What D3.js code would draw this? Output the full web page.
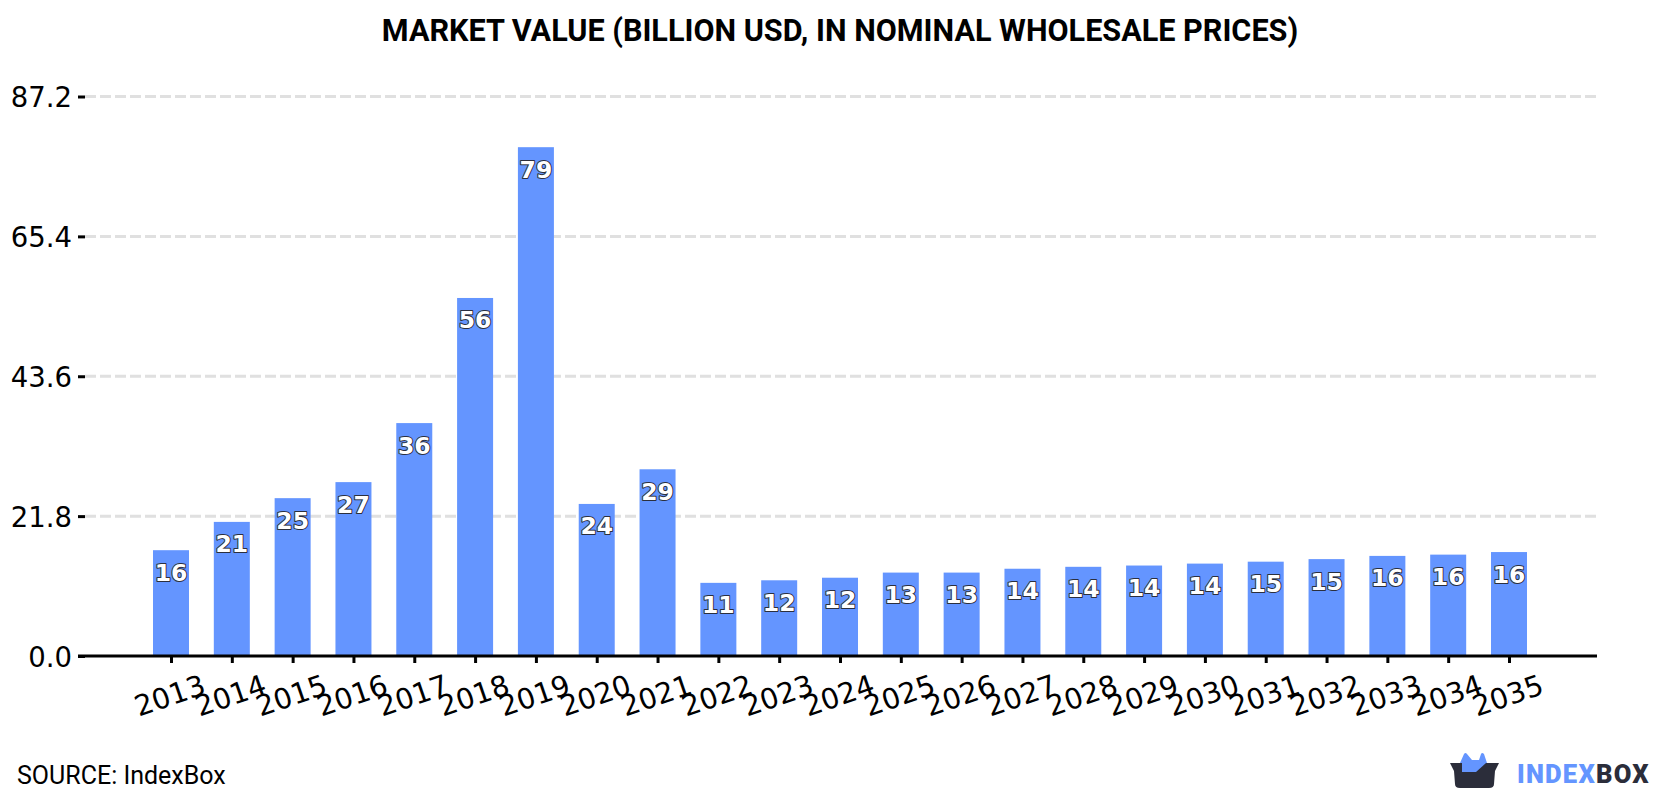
<!DOCTYPE html>
<html>
<head>
<meta charset="utf-8">
<script src="https://cdn.jsdelivr.net/npm/d3@7"></script>
<style>
  html, body { margin: 0; padding: 0; background: #fff; }
  svg { display: block; }
</style>
</head>
<body>
<svg id="chart" width="1680" height="800"></svg>
<script>
const years = ["2013","2014","2015","2016","2017","2018","2019","2020","2021","2022","2023","2024","2025","2026","2027","2028","2029","2030","2031","2032","2033","2034","2035"];
const marketValue = [16.49,20.9,24.6,27.1,36.3,55.8,79.3,23.7,29.1,11.4,11.8,12.2,13.0,13.0,13.6,13.9,14.1,14.4,14.7,15.1,15.6,15.8,16.2];
const yTicks = [0, 21.8, 43.6, 65.4, 87.2];
const titleText = "MARKET VALUE (BILLION USD, IN NOMINAL WHOLESALE PRICES)";
const sourceText = "SOURCE: IndexBox";

const svg = d3.select("#chart");
const plot = { left: 85, right: 1597, top: 96.5, bottom: 656 };

const x = d3.scalePoint().domain(years).range([171, 1509]);
const y = d3.scaleLinear().domain([0, 87.2]).range([plot.bottom, plot.top]);
const barWidth = 36;

// Title
svg.append("text")
  .attr("x", 840).attr("y", 41)
  .attr("text-anchor", "middle")
  .style("font", "700 30.6px Roboto")
  .text(titleText);

// Dashed horizontal gridlines, skipping the baseline
svg.append("g").selectAll("line")
  .data(yTicks.filter(d => d > 0))
  .join("line")
  .attr("x1", plot.left).attr("x2", plot.right)
  .attr("y1", d => y(d)).attr("y2", d => y(d))
  .attr("stroke", "#e0e0e0")
  .attr("stroke-width", 3)
  .attr("stroke-dasharray", "11 4");

// Bars
svg.append("g").selectAll("rect")
  .data(years.map((year, i) => ({ year, value: marketValue[i] })))
  .join("rect")
  .attr("x", d => x(d.year) - barWidth / 2)
  .attr("y", d => y(d.value))
  .attr("width", barWidth)
  .attr("height", d => y(0) - y(d.value))
  .attr("fill", "#6495ff");

// Left axis: tick labels and short tick marks, no domain line
const yAxis = svg.append("g")
  .attr("transform", `translate(${plot.left},0)`)
  .call(d3.axisLeft(y).tickValues(yTicks).tickFormat(d3.format(".1f")).tickSize(7).tickPadding(6));
yAxis.select(".domain").remove();
yAxis.selectAll(".tick line").attr("stroke", "#000").attr("stroke-width", 3);
yAxis.selectAll(".tick text")
  .attr("fill", "#000")
  .attr("dy", "0.37em")
  .style("font", "27.5px 'DejaVu Sans'");

// Bottom axis with rotated year labels
const xAxis = svg.append("g")
  .attr("transform", `translate(0,${plot.bottom})`)
  .call(d3.axisBottom(x).tickSize(7).tickPadding(0));
xAxis.select(".domain")
  .attr("d", `M${plot.left - 7},0H${plot.right}`)
  .attr("stroke", "#000").attr("stroke-width", 3);
xAxis.selectAll(".tick line").attr("stroke", "#000").attr("stroke-width", 3);
xAxis.selectAll(".tick text")
  .attr("fill", "#000")
  .attr("text-anchor", "middle")
  .attr("dy", 0)
  .attr("transform", "translate(1.5,49) rotate(-19)")
  .attr("x", 0).attr("y", 0)
  .style("font", "28.5px 'DejaVu Sans'");

// Value labels inside the bars
svg.append("g").selectAll("text")
  .data(years.map((year, i) => ({ year, value: marketValue[i] })))
  .join("text")
  .attr("x", d => x(d.year))
  .attr("y", d => y(d.value) + 30.5)
  .attr("text-anchor", "middle")
  .attr("fill", "#fff")
  .attr("stroke", "#2b2f3d")
  .attr("stroke-width", 2)
  .attr("stroke-linejoin", "round")
  .attr("paint-order", "stroke")
  .style("font", "700 23.5px 'DejaVu Sans'")
  .text(d => d3.format(".0f")(d.value));

// Source note
svg.append("text")
  .attr("x", 17).attr("y", 784)
  .style("font", "400 25px Roboto")
  .attr("fill", "#000")
  .text(sourceText);

// IndexBox logo: open box with blue flaps, followed by the wordmark
const logo = svg.append("g").attr("transform", "translate(1450,753)");
logo.append("path")
  .attr("d", "M10,10 L14,1 Q15.5,-1 17,1 L22,7 L29,7 L31,1 Q32,-1 34,1 L37,10 L36,11 L26,20 L12,20 Z")
  .attr("fill", "#6495ff");
logo.append("path")
  .attr("d", "M0,10 L12,10 L12,19 L26,19 L36,10 L49,10 L45,18 L44,31 Q44,35 39,35 L10,35 Q5,35 5,31 L4,18 Z")
  .attr("fill", "#2b2d3a");
const word = svg.append("text")
  .attr("x", 1517).attr("y", 783)
  .style("font", "900 25.6px Roboto")
  .attr("letter-spacing", 1.2);
word.append("tspan").attr("fill", "#6495ff").text("INDEX");
word.append("tspan").attr("fill", "#2b2d3a").text("BOX");
</script>
</body>
</html>
